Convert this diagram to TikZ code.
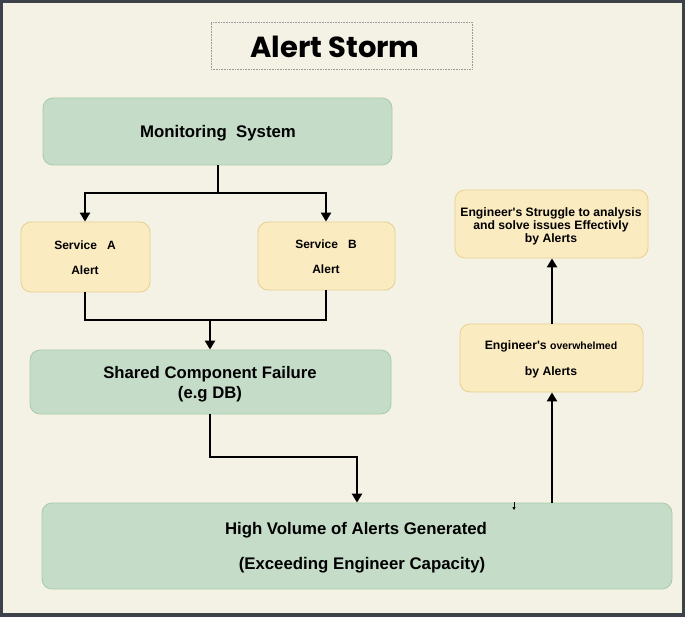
\documentclass[tikz,border=0pt]{standalone}
\usepackage{fontspec}
\setmainfont{Liberation Sans}
\newfontfamily\titlefont{Poppins}
\usetikzlibrary{arrows.meta}
\definecolor{bgc}{HTML}{F4F1E5}
\definecolor{framec}{HTML}{3D424A}
\definecolor{gfill}{HTML}{C5DCC9}
\definecolor{gline}{HTML}{A8CBA6}
\definecolor{yfill}{HTML}{FBEBC1}
\definecolor{yline}{HTML}{E8D08E}
\tikzset{
  gbox/.style={draw=gline, fill=gfill, line width=0.8pt, rounded corners=10pt, inner sep=0pt},
  ybox/.style={draw=yline, fill=yfill, line width=0.8pt, rounded corners=10pt, inner sep=0pt},
  conn/.style={line width=2.4pt, draw=black},
  arr/.style={conn, -{Triangle[length=9pt,width=10pt]}},
  lbl/.style={font=\bfseries, inner sep=0pt, anchor=center}
}
\begin{document}
\begin{tikzpicture}[x=1pt,y=-1pt]
\useasboundingbox (0,0) rectangle (685,617);
\fill[framec] (0,0) rectangle (685,617);
\fill[bgc] (3,3) rectangle (682,613);
% title
\node[draw=gray!80, densely dotted, line width=0.6pt, minimum width=261pt, minimum height=47pt, inner sep=0pt] (title) at (341.5,45.5) {};
\node[font=\titlefont\bfseries\fontsize{29}{32}\selectfont, inner sep=0pt] (titletxt) at (335,47) {Alert Storm};
% boxes
\node[gbox, minimum width=349pt, minimum height=67pt] (mon) at (217.5,131.5) {};
\node[lbl, font=\bfseries\fontsize{16.8}{20}\selectfont] (montxt) at (218,133) {Monitoring\ \ System};
\node[ybox, minimum width=129pt, minimum height=70pt] (sa) at (85.5,257) {};
\node[lbl, font=\bfseries\fontsize{12}{14}\selectfont] (satxt1) at (85,245) {Service\ \ \ A};
\node[lbl, font=\bfseries\fontsize{12}{14}\selectfont] (satxt2) at (85,270) {Alert};
\node[ybox, minimum width=137pt, minimum height=68pt] (sb) at (326.5,256) {};
\node[lbl, font=\bfseries\fontsize{12}{14}\selectfont] (sbtxt1) at (326,244) {Service\ \ \ B};
\node[lbl, font=\bfseries\fontsize{12}{14}\selectfont] (sbtxt2) at (326,269) {Alert};
\node[gbox, minimum width=361pt, minimum height=64pt] (shared) at (210.5,382) {};
\node[lbl, font=\bfseries\fontsize{16.7}{20}\selectfont] (shtxt1) at (210,374) {Shared Component Failure};
\node[lbl, font=\bfseries\fontsize{16.7}{20}\selectfont] (shtxt2) at (210,394) {(e.g DB)};
\node[gbox, minimum width=630pt, minimum height=86pt] (high) at (357,546) {};
\node[lbl, font=\bfseries\fontsize{16.8}{20}\selectfont] (hitxt1) at (356,530) {High Volume of Alerts Generated};
\node[lbl, font=\bfseries\fontsize{16.8}{20}\selectfont] (hitxt2) at (362,565) {(Exceeding Engineer Capacity)};
\node[ybox, minimum width=183pt, minimum height=68pt] (over) at (551.5,358) {};
\node[lbl, font=\bfseries\fontsize{12.2}{14}\selectfont] (ovtxt1) at (551,346) {Engineer\textquotesingle s {\fontsize{10.5}{12}\selectfont overwhelmed}};
\node[lbl, font=\bfseries\fontsize{12.2}{14}\selectfont] (ovtxt2) at (551,372) {by Alerts};
\node[ybox, minimum width=193pt, minimum height=68pt] (strug) at (551.5,224) {};
\node[lbl, font=\bfseries\fontsize{12.2}{14}\selectfont, align=center] (sttxt) at (551,226) {Engineer\textquotesingle s Struggle to analysis\\[-1pt]and solve issues Effectivly\\[-1pt]by Alerts};
% connectors
\coordinate (m1) at (218,193);
\draw[conn] (mon.south -| m1) -- (m1);
\draw[arr] (m1) -- (85,193) -- (sa.north -| 85,0);
\draw[arr] (m1) -- (326,193) -- (sb.north -| 326,0);
\coordinate (j1) at (210,320);
\draw[conn] (sa.south -| 85,0) -- (85,320) -- (326,320) -- (sb.south -| 326,0);
\draw[arr] (j1) -- (shared.north -| j1);
\coordinate (k1) at (210,457);
\coordinate (k2) at (357,457);
\draw[arr] (shared.south -| k1) -- (k1) -- (k2) -- (high.north -| k2);
\coordinate (h1) at (552,0);
\draw[arr] (high.north -| h1) -- (over.south -| h1);
\draw[arr] (over.north -| h1) -- (strug.south -| h1);
\coordinate (tiny1) at (514,502);
\coordinate (tiny2) at (514,510);
\draw[line width=0.6pt, -{Triangle[length=3pt,width=3pt]}] (tiny1) -- (tiny2);
\end{tikzpicture}
\end{document}
